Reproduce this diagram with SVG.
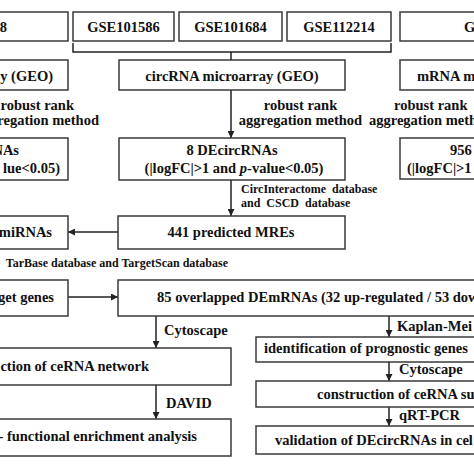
<svg xmlns="http://www.w3.org/2000/svg" width="474" height="474" viewBox="0 0 474 474" font-family="Liberation Serif, serif">
<style>
.box{fill:#fff;stroke:#3a3a3a;stroke-width:1.5}
text{font-family:'Liberation Serif','Times New Roman',serif;font-weight:bold;font-size:14.5px;fill:#111}
.s{font-size:12px}
.c{text-anchor:middle}
.e{text-anchor:end}
.ln{stroke:#222;stroke-width:1.5;fill:none}
.ar{stroke:#222;stroke-width:1.5;fill:none;marker-end:url(#ah)}
</style>
<defs>
<marker id="ah" viewBox="0 0 10 10" refX="10" refY="5" markerWidth="7" markerHeight="7" markerUnits="userSpaceOnUse" orient="auto">
<path d="M0,0 L10,5 L0,10 z" fill="#222"/>
</marker>
</defs>
<rect width="474" height="474" fill="#fff"/>
<g id="connectors">
<path class="ln" d="M73,43 V52 H391 V43"/>
<line class="ln" x1="231" y1="52" x2="231" y2="60"/>
<line class="ar" x1="231" y1="90" x2="231" y2="138"/>
<line class="ar" x1="231" y1="180" x2="231" y2="216"/>
<line class="ar" x1="118" y1="232" x2="68" y2="232"/>
<line class="ar" x1="68" y1="297" x2="118" y2="297"/>
<line class="ar" x1="156" y1="316" x2="156" y2="348"/>
<line class="ar" x1="389" y1="316" x2="389" y2="337"/>
<line class="ar" x1="156" y1="385" x2="156" y2="419"/>
<line class="ar" x1="389" y1="362" x2="389" y2="381"/>
<line class="ar" x1="389" y1="407" x2="389" y2="426"/>
</g>
<g id="labels">
<text class="e" x="74" y="110">robust rank</text>
<text class="e" x="99" y="125">regation method</text>
<text class="c" x="300.5" y="110">robust rank</text>
<text class="c" x="300.5" y="125">aggregation method</text>
<text x="394" y="110">robust rank</text>
<text x="369" y="125">aggregation meth</text>
<text class="s" x="241" y="193" word-spacing="3">CircInteractome database</text>
<text class="s" x="241" y="207" word-spacing="3">and CSCD database</text>
<text class="s e" x="228" y="267">TarBase database and  TargetScan database</text>
<text x="164" y="335">Cytoscape</text>
<text x="397" y="331">Kaplan-Mei</text>
<text x="166" y="408">DAVID</text>
<text x="399" y="374">Cytoscape</text>
<text x="399" y="420">qRT-PCR</text>
</g>
<g id="n1"><rect class="box" x="-5" y="12" width="73" height="29"/><text class="e" x="7" y="32">8</text></g>
<g id="n2"><rect class="box" x="73" y="12" width="101" height="29"/><text class="c" x="123.5" y="32">GSE101586</text></g>
<g id="n3"><rect class="box" x="179" y="12" width="103" height="29"/><text class="c" x="230.5" y="32">GSE101684</text></g>
<g id="n4"><rect class="box" x="287" y="12" width="104" height="29"/><text class="c" x="339" y="32">GSE112214</text></g>
<g id="n5"><rect class="box" x="400" y="12" width="80" height="29"/><text x="464" y="32">G</text></g>
<g id="n6"><rect class="box" x="-5" y="60" width="73" height="30"/><text class="e" x="53" y="81">y (GEO)</text></g>
<g id="n7"><rect class="box" x="119" y="60" width="226" height="30"/><text class="c" x="232" y="81">circRNA microarray (GEO)</text></g>
<g id="n8"><rect class="box" x="400" y="60" width="80" height="30"/><text x="417" y="81">mRNA m</text></g>
<g id="n9"><rect class="box" x="-5" y="138" width="73" height="42"/><text class="e" x="19" y="155">NAs</text><text class="e" x="60" y="173">lue&lt;0.05)</text></g>
<g id="n10"><rect class="box" x="119" y="138" width="226" height="42"/><text class="c" x="232" y="155">8 DEcircRNAs</text><text class="c" x="234" y="173">(|logFC|&gt;1 and <tspan font-style="italic">p</tspan>-value&lt;0.05)</text></g>
<g id="n11"><rect class="box" x="400" y="138" width="80" height="41"/><text x="450" y="155">956</text><text x="407" y="173">(|logFC|&gt;1</text></g>
<g id="n12"><rect class="box" x="-5" y="216" width="73" height="33"/><text class="e" x="52" y="237">miRNAs</text></g>
<g id="n13"><rect class="box" x="118" y="216" width="227" height="33"/><text class="c" x="231" y="237">441 predicted MREs</text></g>
<g id="n14"><rect class="box" x="-5" y="280" width="73" height="36"/><text class="e" x="54" y="302">get genes</text></g>
<g id="n15"><rect class="box" x="118" y="280" width="362" height="36"/><text x="157" y="302">85 overlapped DEmRNAs (32 up-regulated / 53 dow</text></g>
<g id="n16"><rect class="box" x="-5" y="348" width="236" height="37"/><text class="e" x="149" y="371">ction of ceRNA network</text></g>
<g id="n17"><rect class="box" x="-5" y="419" width="236" height="37"/><text class="e" x="197" y="441">- functional enrichment analysis</text></g>
<g id="n18"><rect class="box" x="256" y="337" width="224" height="25"/><text x="264" y="353">identification of prognostic genes</text></g>
<g id="n19"><rect class="box" x="256" y="381" width="224" height="26"/><text x="317" y="399">construction of ceRNA su</text></g>
<g id="n20"><rect class="box" x="256" y="426" width="224" height="28"/><text x="275" y="445">validation of DEcircRNAs in cel</text></g>
</svg>
